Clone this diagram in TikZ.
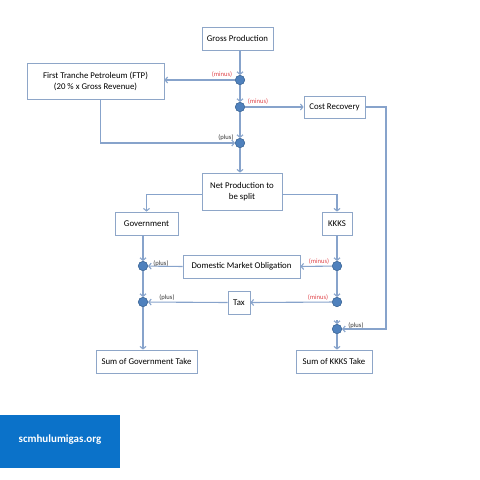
\documentclass[tikz,border=0pt]{standalone}
\usepackage{fontspec}
\setmainfont{Carlito}
\usetikzlibrary{arrows.meta}
\definecolor{boxc}{HTML}{8EA6C8}
\definecolor{linec}{HTML}{87A3CB}
\definecolor{dotc}{HTML}{4F81BD}
\definecolor{dotb}{HTML}{2E5A8C}
\definecolor{redl}{HTML}{E0474C}
\definecolor{blueb}{HTML}{0B72C9}
\tikzset{
  box/.style={draw=boxc, line width=0.8pt, fill=white, inner sep=1pt, font=\fontsize{8.8}{10.8}\selectfont, align=center},
  dot/.style={circle, fill=dotc, draw=dotb, line width=0.5pt, minimum size=9.5pt, inner sep=0pt},
  arr/.style={draw=linec, line width=1.1pt, -{Straight Barb[length=2.5pt,width=6pt]}},
  redlab/.style={text=redl, font=\fontsize{6.6}{7.5}\selectfont, inner sep=0pt},
  blklab/.style={text=black!80, font=\fontsize{6.6}{7.5}\selectfont, inner sep=0pt}
}
\begin{document}
\begin{tikzpicture}[x=1pt,y=-1pt]
\useasboundingbox (0,0) rectangle (480,480);
% boxes
\node[box, minimum width=71pt, minimum height=23pt] (gross) at (237.5,38.5) {Gross Production};
\node[box, minimum width=137pt, minimum height=36pt] (ftp) at (95.5,81) {First Tranche Petroleum (FTP)\\(20 \% x Gross Revenue)};
\node[box, minimum width=61pt, minimum height=22pt] (cost) at (334.5,107) {Cost Recovery};
\node[box, minimum width=80pt, minimum height=37pt] (net) at (242,191.5) {Net Production to\\be split};
\node[box, minimum width=63pt, minimum height=23pt] (gov) at (146.5,223.5) {Government};
\node[box, minimum width=30pt, minimum height=23pt] (kkks) at (337,223.5) {KKKS};
\node[box, minimum width=117pt, minimum height=23pt] (dmo) at (241.5,266.5) {Domestic Market Obligation};
\node[box, minimum width=22pt, minimum height=23pt] (tax) at (239,302.5) {Tax};
\node[box, minimum width=101pt, minimum height=23pt] (sumgov) at (146.5,361.5) {Sum of Government Take};
\node[box, minimum width=76pt, minimum height=23pt] (sumk) at (334,361.5) {Sum of KKKS Take};
% dots
\node[dot] (d1) at (240,80) {};
\node[dot] (d2) at (240,107) {};
\node[dot] (d3) at (240,143) {};
\node[dot] (l1) at (143,266) {};
\node[dot] (l2) at (143,302) {};
\node[dot] (r1) at (337,266) {};
\node[dot] (r2) at (337,302) {};
\node[dot] (r3) at (337,329) {};
\coordinate (stub) at (337,320);
\coordinate (crc) at (386,329);
% connectors
\draw[arr] (d1 |- gross.south) -- (d1);
\draw[arr] (d1) -- (d1 -| ftp.east);
\draw[arr] (d1) -- (d2);
\draw[arr] (d2) -- (cost.west);
\draw[arr] (d2) -- (d3);
\draw[arr] ([xshift=5pt]ftp.south) |- (d3);
\draw[arr] (d3) -- (d3 |- net.north);
\draw[arr] ([yshift=-3pt]net.west) -| (gov.north);
\draw[arr] ([yshift=-3pt]net.east) -| (kkks.north);
\draw[arr] (l1 |- gov.south) -- (l1);
\draw[arr] (dmo.west) -- (l1);
\draw[arr] (l1) -- (l2);
\draw[arr] (tax.west) -- (l2);
\draw[arr] (l2) -- (l2 |- sumgov.north);
\draw[arr] (r1 |- kkks.south) -- (r1);
\draw[arr] (r1) -- (dmo.east);
\draw[arr] (r1) -- (r2);
\draw[arr] (r2) -- (tax.east);
\draw[arr] (stub) -- (r3);
\draw[arr] (cost.east) -| (crc) -- (r3);
\draw[arr] (r3) -- (r3 |- sumk.north);
% labels
\node[redlab] (m1) at (222,75) {(minus)};
\node[redlab] (m2) at (258,102) {(minus)};
\node[blklab] (p1) at (226,137.5) {(plus)};
\node[blklab] (p2) at (161,264) {(plus)};
\node[redlab] (m3) at (319,262) {(minus)};
\node[blklab] (p3) at (167,298) {(plus)};
\node[redlab] (m4) at (318,298) {(minus)};
\node[blklab] (p4) at (356,325.5) {(plus)};
% watermark
\fill[blueb] (0,415) rectangle (120,468);
\node[text=white, font=\bfseries\fontsize{11}{13}\selectfont] (wm) at (60,440) {scmhulumigas.org};
\end{tikzpicture}
\end{document}
